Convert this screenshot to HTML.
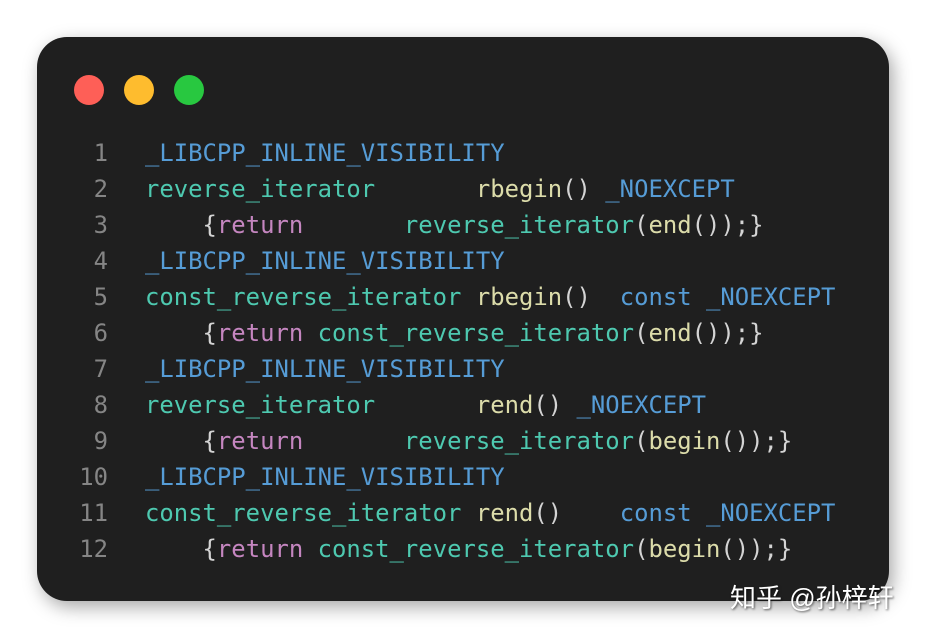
<!DOCTYPE html>
<html><head><meta charset="utf-8"><style>
html,body{margin:0;padding:0;background:#fff;width:928px;height:638px;overflow:hidden;position:relative}
.card{position:absolute;left:37px;top:37px;width:852px;height:564px;background:#1f1f1f;border-radius:30px;box-shadow:4px 6px 18px rgba(0,0,0,0.35)}
.dot{position:absolute;top:75px;width:30px;height:30px;border-radius:50%}
pre{position:absolute;margin:0;top:135px;font-family:"DejaVu Sans Mono","Liberation Mono",monospace;font-size:23.9px;line-height:36px;color:#d4d4d4}
.num{left:60px;width:48px;text-align:right;color:#858585}
.code{left:145px}
.b{color:#569cd6}.t{color:#4ec9b0}.y{color:#dcdcaa}.p{color:#c586c0}
.wm{position:absolute;left:730px;top:580px;font-family:"Liberation Sans","Noto Sans CJK SC",sans-serif;font-size:26px;color:#fff;text-shadow:1px 1px 2px rgba(0,0,0,0.6);line-height:36px}
</style></head><body>
<div class="card"></div>
<div class="dot" style="left:74px;background:#fe5f57"></div>
<div class="dot" style="left:124px;background:#febc2e"></div>
<div class="dot" style="left:174px;background:#28c840"></div>
<pre class="num">1
2
3
4
5
6
7
8
9
10
11
12</pre>
<pre class="code"><span class="b">_LIBCPP_INLINE_VISIBILITY</span>
<span class="t">reverse_iterator</span>       <span class="y">rbegin</span>() <span class="b">_NOEXCEPT</span>
    {<span class="p">return</span>       <span class="t">reverse_iterator</span>(<span class="y">end</span>());}
<span class="b">_LIBCPP_INLINE_VISIBILITY</span>
<span class="t">const_reverse_iterator</span> <span class="y">rbegin</span>()  <span class="b">const _NOEXCEPT</span>
    {<span class="p">return</span> <span class="t">const_reverse_iterator</span>(<span class="y">end</span>());}
<span class="b">_LIBCPP_INLINE_VISIBILITY</span>
<span class="t">reverse_iterator</span>       <span class="y">rend</span>() <span class="b">_NOEXCEPT</span>
    {<span class="p">return</span>       <span class="t">reverse_iterator</span>(<span class="y">begin</span>());}
<span class="b">_LIBCPP_INLINE_VISIBILITY</span>
<span class="t">const_reverse_iterator</span> <span class="y">rend</span>()    <span class="b">const _NOEXCEPT</span>
    {<span class="p">return</span> <span class="t">const_reverse_iterator</span>(<span class="y">begin</span>());}</pre>
<div class="wm">知乎 @孙梓轩</div>
</body></html>
